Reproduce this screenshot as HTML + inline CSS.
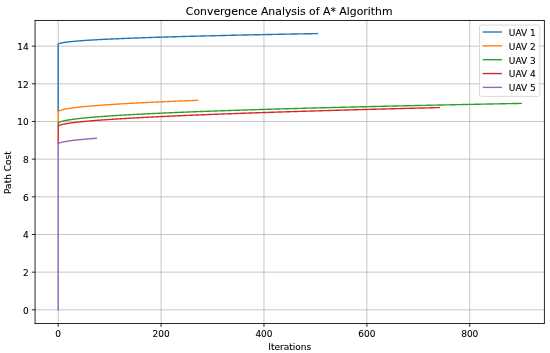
<!DOCTYPE html><html><head><meta charset="utf-8"><style>html,body{margin:0;padding:0;background:#fff;}svg{display:block;}text{font-family:"DejaVu Sans","Liberation Sans",sans-serif;fill:#000;stroke:#000;stroke-width:0.1px;}</style></head><body>
<svg width="550" height="353" viewBox="0 0 550 353">
<rect x="0" y="0" width="550" height="353" fill="#fff"/>
<g>
<path d="M58.20 20.40V323.60M161.09 20.40V323.60M263.98 20.40V323.60M366.87 20.40V323.60M469.76 20.40V323.60M35.05 309.82H544.35M35.05 272.15H544.35M35.05 234.48H544.35M35.05 196.81H544.35M35.05 159.14H544.35M35.05 121.47H544.35M35.05 83.80H544.35M35.05 46.13H544.35" stroke="#b0b0b0" stroke-width="0.734" fill="none"/>
<path d="M58.20 111.07 L58.20 44.14 L58.71 43.84 L59.23 43.62 L59.74 43.45 L60.26 43.29 L60.77 43.16 L61.29 43.04 L61.80 42.92 L62.32 42.82 L62.83 42.72 L63.34 42.63 L63.86 42.54 L64.37 42.46 L64.89 42.38 L65.40 42.30 L65.92 42.23 L66.43 42.16 L66.95 42.09 L67.46 42.02 L67.97 41.96 L68.49 41.90 L69.00 41.84 L69.52 41.78 L70.03 41.72 L70.55 41.67 L71.06 41.61 L71.58 41.56 L72.09 41.51 L72.60 41.46 L73.12 41.41 L73.63 41.36 L74.15 41.31 L74.66 41.26 L75.18 41.22 L75.69 41.17 L76.21 41.12 L76.72 41.08 L77.23 41.04 L77.75 40.99 L78.26 40.95 L78.78 40.91 L79.29 40.87 L79.81 40.83 L80.32 40.79 L80.84 40.75 L81.35 40.71 L81.86 40.68 L82.38 40.64 L82.89 40.60 L83.41 40.56 L83.92 40.53 L84.44 40.49 L84.95 40.46 L85.47 40.42 L85.98 40.39 L86.49 40.35 L87.01 40.32 L87.52 40.28 L88.04 40.25 L88.55 40.22 L89.07 40.19 L89.58 40.15 L90.10 40.12 L90.61 40.09 L91.12 40.06 L91.64 40.03 L92.15 40.00 L92.67 39.97 L93.18 39.94 L93.70 39.91 L94.21 39.88 L94.73 39.85 L95.24 39.82 L95.75 39.79 L96.27 39.76 L96.78 39.73 L97.30 39.70 L97.81 39.68 L98.33 39.65 L98.84 39.62 L99.36 39.59 L99.87 39.56 L100.38 39.54 L100.90 39.51 L101.41 39.48 L101.93 39.46 L102.44 39.43 L102.96 39.41 L103.47 39.38 L103.99 39.35 L104.50 39.33 L105.01 39.30 L105.53 39.28 L106.04 39.25 L106.56 39.23 L107.07 39.20 L107.59 39.18 L108.10 39.15 L108.62 39.13 L109.13 39.10 L109.64 39.08 L110.16 39.06 L110.67 39.03 L111.19 39.01 L111.70 38.99 L112.22 38.96 L112.73 38.94 L113.25 38.92 L113.76 38.89 L114.27 38.87 L114.79 38.85 L115.30 38.82 L115.82 38.80 L116.33 38.78 L116.85 38.76 L117.36 38.73 L117.88 38.71 L118.39 38.69 L118.90 38.67 L119.42 38.65 L119.93 38.63 L120.45 38.60 L120.96 38.58 L121.48 38.56 L121.99 38.54 L122.51 38.52 L123.02 38.50 L123.53 38.48 L124.05 38.46 L124.56 38.44 L125.08 38.41 L125.59 38.39 L126.11 38.37 L126.62 38.35 L127.14 38.33 L127.65 38.31 L128.16 38.29 L128.68 38.27 L129.19 38.25 L129.71 38.23 L130.22 38.21 L130.74 38.19 L131.25 38.17 L131.77 38.15 L132.28 38.14 L132.79 38.12 L133.31 38.10 L133.82 38.08 L134.34 38.06 L134.85 38.04 L135.37 38.02 L135.88 38.00 L136.40 37.98 L136.91 37.96 L137.42 37.95 L137.94 37.93 L138.45 37.91 L138.97 37.89 L139.48 37.87 L140.00 37.85 L140.51 37.84 L141.03 37.82 L141.54 37.80 L142.05 37.78 L142.57 37.76 L143.08 37.75 L143.60 37.73 L144.11 37.71 L144.63 37.69 L145.14 37.67 L145.66 37.66 L146.17 37.64 L146.68 37.62 L147.20 37.60 L147.71 37.59 L148.23 37.57 L148.74 37.55 L149.26 37.54 L149.77 37.52 L150.29 37.50 L150.80 37.48 L151.31 37.47 L151.83 37.45 L152.34 37.43 L152.86 37.42 L153.37 37.40 L153.89 37.38 L154.40 37.37 L154.92 37.35 L155.43 37.33 L155.94 37.32 L156.46 37.30 L156.97 37.28 L157.49 37.27 L158.00 37.25 L158.52 37.24 L159.03 37.22 L159.55 37.20 L160.06 37.19 L160.57 37.17 L161.09 37.16 L161.60 37.14 L162.12 37.12 L162.63 37.11 L163.15 37.09 L163.66 37.08 L164.18 37.06 L164.69 37.04 L165.20 37.03 L165.72 37.01 L166.23 37.00 L166.75 36.98 L167.26 36.97 L167.78 36.95 L168.29 36.94 L168.81 36.92 L169.32 36.91 L169.83 36.89 L170.35 36.88 L170.86 36.86 L171.38 36.84 L171.89 36.83 L172.41 36.81 L172.92 36.80 L173.44 36.79 L173.95 36.77 L174.46 36.76 L174.98 36.74 L175.49 36.73 L176.01 36.71 L176.52 36.70 L177.04 36.68 L177.55 36.67 L178.07 36.65 L178.58 36.64 L179.09 36.62 L179.61 36.61 L180.12 36.59 L180.64 36.58 L181.15 36.57 L181.67 36.55 L182.18 36.54 L182.70 36.52 L183.21 36.51 L183.72 36.49 L184.24 36.48 L184.75 36.47 L185.27 36.45 L185.78 36.44 L186.30 36.42 L186.81 36.41 L187.33 36.40 L187.84 36.38 L188.35 36.37 L188.87 36.35 L189.38 36.34 L189.90 36.33 L190.41 36.31 L190.93 36.30 L191.44 36.29 L191.96 36.27 L192.47 36.26 L192.98 36.24 L193.50 36.23 L194.01 36.22 L194.53 36.20 L195.04 36.19 L195.56 36.18 L196.07 36.16 L196.59 36.15 L197.10 36.14 L197.61 36.12 L198.13 36.11 L198.64 36.10 L199.16 36.08 L199.67 36.07 L200.19 36.06 L200.70 36.04 L201.22 36.03 L201.73 36.02 L202.24 36.00 L202.76 35.99 L203.27 35.98 L203.79 35.97 L204.30 35.95 L204.82 35.94 L205.33 35.93 L205.85 35.91 L206.36 35.90 L206.87 35.89 L207.39 35.88 L207.90 35.86 L208.42 35.85 L208.93 35.84 L209.45 35.82 L209.96 35.81 L210.48 35.80 L210.99 35.79 L211.50 35.77 L212.02 35.76 L212.53 35.75 L213.05 35.74 L213.56 35.72 L214.08 35.71 L214.59 35.70 L215.11 35.69 L215.62 35.67 L216.13 35.66 L216.65 35.65 L217.16 35.64 L217.68 35.62 L218.19 35.61 L218.71 35.60 L219.22 35.59 L219.74 35.58 L220.25 35.56 L220.76 35.55 L221.28 35.54 L221.79 35.53 L222.31 35.51 L222.82 35.50 L223.34 35.49 L223.85 35.48 L224.37 35.47 L224.88 35.45 L225.39 35.44 L225.91 35.43 L226.42 35.42 L226.94 35.41 L227.45 35.39 L227.97 35.38 L228.48 35.37 L229.00 35.36 L229.51 35.35 L230.02 35.34 L230.54 35.32 L231.05 35.31 L231.57 35.30 L232.08 35.29 L232.60 35.28 L233.11 35.27 L233.63 35.25 L234.14 35.24 L234.65 35.23 L235.17 35.22 L235.68 35.21 L236.20 35.20 L236.71 35.18 L237.23 35.17 L237.74 35.16 L238.26 35.15 L238.77 35.14 L239.28 35.13 L239.80 35.12 L240.31 35.10 L240.83 35.09 L241.34 35.08 L241.86 35.07 L242.37 35.06 L242.89 35.05 L243.40 35.04 L243.91 35.03 L244.43 35.01 L244.94 35.00 L245.46 34.99 L245.97 34.98 L246.49 34.97 L247.00 34.96 L247.52 34.95 L248.03 34.94 L248.54 34.92 L249.06 34.91 L249.57 34.90 L250.09 34.89 L250.60 34.88 L251.12 34.87 L251.63 34.86 L252.15 34.85 L252.66 34.84 L253.17 34.83 L253.69 34.81 L254.20 34.80 L254.72 34.79 L255.23 34.78 L255.75 34.77 L256.26 34.76 L256.78 34.75 L257.29 34.74 L257.80 34.73 L258.32 34.72 L258.83 34.71 L259.35 34.70 L259.86 34.69 L260.38 34.67 L260.89 34.66 L261.41 34.65 L261.92 34.64 L262.43 34.63 L262.95 34.62 L263.46 34.61 L263.98 34.60 L264.49 34.59 L265.01 34.58 L265.52 34.57 L266.04 34.56 L266.55 34.55 L267.06 34.54 L267.58 34.53 L268.09 34.52 L268.61 34.51 L269.12 34.49 L269.64 34.48 L270.15 34.47 L270.67 34.46 L271.18 34.45 L271.69 34.44 L272.21 34.43 L272.72 34.42 L273.24 34.41 L273.75 34.40 L274.27 34.39 L274.78 34.38 L275.30 34.37 L275.81 34.36 L276.32 34.35 L276.84 34.34 L277.35 34.33 L277.87 34.32 L278.38 34.31 L278.90 34.30 L279.41 34.29 L279.93 34.28 L280.44 34.27 L280.95 34.26 L281.47 34.25 L281.98 34.24 L282.50 34.23 L283.01 34.22 L283.53 34.21 L284.04 34.20 L284.56 34.19 L285.07 34.18 L285.58 34.17 L286.10 34.16 L286.61 34.15 L287.13 34.14 L287.64 34.13 L288.16 34.12 L288.67 34.11 L289.19 34.10 L289.70 34.09 L290.21 34.08 L290.73 34.07 L291.24 34.06 L291.76 34.05 L292.27 34.04 L292.79 34.03 L293.30 34.02 L293.82 34.01 L294.33 34.00 L294.84 33.99 L295.36 33.98 L295.87 33.97 L296.39 33.96 L296.90 33.95 L297.42 33.94 L297.93 33.93 L298.45 33.92 L298.96 33.91 L299.47 33.90 L299.99 33.89 L300.50 33.89 L301.02 33.88 L301.53 33.87 L302.05 33.86 L302.56 33.85 L303.08 33.84 L303.59 33.83 L304.10 33.82 L304.62 33.81 L305.13 33.80 L305.65 33.79 L306.16 33.78 L306.68 33.77 L307.19 33.76 L307.71 33.75 L308.22 33.74 L308.73 33.73 L309.25 33.72 L309.76 33.71 L310.28 33.70 L310.79 33.70 L311.31 33.69 L311.82 33.68 L312.34 33.67 L312.85 33.66 L313.36 33.65 L313.88 33.64 L314.39 33.63 L314.91 33.62 L315.42 33.61 L315.94 33.60 L316.45 33.59 L316.97 33.58 L317.48 33.57" stroke="#1f77b4" stroke-width="1.376" fill="none" stroke-linecap="square" stroke-linejoin="round"/>
<path d="M58.20 122.66 L58.20 111.44 L58.71 111.07 L59.23 110.80 L59.74 110.57 L60.26 110.37 L60.77 110.20 L61.29 110.04 L61.80 109.89 L62.32 109.75 L62.83 109.62 L63.34 109.50 L63.86 109.38 L64.37 109.27 L64.89 109.17 L65.40 109.07 L65.92 108.97 L66.43 108.87 L66.95 108.78 L67.46 108.69 L67.97 108.61 L68.49 108.52 L69.00 108.44 L69.52 108.36 L70.03 108.28 L70.55 108.21 L71.06 108.13 L71.58 108.06 L72.09 107.99 L72.60 107.92 L73.12 107.85 L73.63 107.79 L74.15 107.72 L74.66 107.65 L75.18 107.59 L75.69 107.53 L76.21 107.47 L76.72 107.41 L77.23 107.35 L77.75 107.29 L78.26 107.23 L78.78 107.17 L79.29 107.12 L79.81 107.06 L80.32 107.01 L80.84 106.95 L81.35 106.90 L81.86 106.85 L82.38 106.79 L82.89 106.74 L83.41 106.69 L83.92 106.64 L84.44 106.59 L84.95 106.54 L85.47 106.49 L85.98 106.44 L86.49 106.40 L87.01 106.35 L87.52 106.30 L88.04 106.26 L88.55 106.21 L89.07 106.16 L89.58 106.12 L90.10 106.07 L90.61 106.03 L91.12 105.99 L91.64 105.94 L92.15 105.90 L92.67 105.86 L93.18 105.81 L93.70 105.77 L94.21 105.73 L94.73 105.69 L95.24 105.65 L95.75 105.61 L96.27 105.57 L96.78 105.53 L97.30 105.49 L97.81 105.45 L98.33 105.41 L98.84 105.37 L99.36 105.33 L99.87 105.29 L100.38 105.25 L100.90 105.22 L101.41 105.18 L101.93 105.14 L102.44 105.10 L102.96 105.07 L103.47 105.03 L103.99 104.99 L104.50 104.96 L105.01 104.92 L105.53 104.88 L106.04 104.85 L106.56 104.81 L107.07 104.78 L107.59 104.74 L108.10 104.71 L108.62 104.67 L109.13 104.64 L109.64 104.60 L110.16 104.57 L110.67 104.54 L111.19 104.50 L111.70 104.47 L112.22 104.44 L112.73 104.40 L113.25 104.37 L113.76 104.34 L114.27 104.30 L114.79 104.27 L115.30 104.24 L115.82 104.21 L116.33 104.18 L116.85 104.14 L117.36 104.11 L117.88 104.08 L118.39 104.05 L118.90 104.02 L119.42 103.99 L119.93 103.96 L120.45 103.93 L120.96 103.90 L121.48 103.86 L121.99 103.83 L122.51 103.80 L123.02 103.77 L123.53 103.74 L124.05 103.71 L124.56 103.68 L125.08 103.65 L125.59 103.63 L126.11 103.60 L126.62 103.57 L127.14 103.54 L127.65 103.51 L128.16 103.48 L128.68 103.45 L129.19 103.42 L129.71 103.39 L130.22 103.37 L130.74 103.34 L131.25 103.31 L131.77 103.28 L132.28 103.25 L132.79 103.23 L133.31 103.20 L133.82 103.17 L134.34 103.14 L134.85 103.12 L135.37 103.09 L135.88 103.06 L136.40 103.03 L136.91 103.01 L137.42 102.98 L137.94 102.95 L138.45 102.93 L138.97 102.90 L139.48 102.87 L140.00 102.85 L140.51 102.82 L141.03 102.80 L141.54 102.77 L142.05 102.74 L142.57 102.72 L143.08 102.69 L143.60 102.67 L144.11 102.64 L144.63 102.61 L145.14 102.59 L145.66 102.56 L146.17 102.54 L146.68 102.51 L147.20 102.49 L147.71 102.46 L148.23 102.44 L148.74 102.41 L149.26 102.39 L149.77 102.36 L150.29 102.34 L150.80 102.31 L151.31 102.29 L151.83 102.26 L152.34 102.24 L152.86 102.22 L153.37 102.19 L153.89 102.17 L154.40 102.14 L154.92 102.12 L155.43 102.10 L155.94 102.07 L156.46 102.05 L156.97 102.02 L157.49 102.00 L158.00 101.98 L158.52 101.95 L159.03 101.93 L159.55 101.91 L160.06 101.88 L160.57 101.86 L161.09 101.84 L161.60 101.81 L162.12 101.79 L162.63 101.77 L163.15 101.74 L163.66 101.72 L164.18 101.70 L164.69 101.68 L165.20 101.65 L165.72 101.63 L166.23 101.61 L166.75 101.59 L167.26 101.56 L167.78 101.54 L168.29 101.52 L168.81 101.50 L169.32 101.47 L169.83 101.45 L170.35 101.43 L170.86 101.41 L171.38 101.39 L171.89 101.36 L172.41 101.34 L172.92 101.32 L173.44 101.30 L173.95 101.28 L174.46 101.25 L174.98 101.23 L175.49 101.21 L176.01 101.19 L176.52 101.17 L177.04 101.15 L177.55 101.13 L178.07 101.10 L178.58 101.08 L179.09 101.06 L179.61 101.04 L180.12 101.02 L180.64 101.00 L181.15 100.98 L181.67 100.96 L182.18 100.94 L182.70 100.92 L183.21 100.89 L183.72 100.87 L184.24 100.85 L184.75 100.83 L185.27 100.81 L185.78 100.79 L186.30 100.77 L186.81 100.75 L187.33 100.73 L187.84 100.71 L188.35 100.69 L188.87 100.67 L189.38 100.65 L189.90 100.63 L190.41 100.61 L190.93 100.59 L191.44 100.57 L191.96 100.55 L192.47 100.53 L192.98 100.51 L193.50 100.49 L194.01 100.47 L194.53 100.45 L195.04 100.43 L195.56 100.41 L196.07 100.39 L196.59 100.37 L197.10 100.35 L197.61 100.33" stroke="#ff7f0e" stroke-width="1.376" fill="none" stroke-linecap="square" stroke-linejoin="round"/>
<path d="M58.20 125.58 L58.20 123.06 L58.71 122.66 L59.23 122.36 L59.74 122.12 L60.26 121.91 L60.77 121.72 L61.29 121.55 L61.80 121.40 L62.32 121.25 L62.83 121.12 L63.34 120.99 L63.86 120.86 L64.37 120.75 L64.89 120.64 L65.40 120.53 L65.92 120.43 L66.43 120.33 L66.95 120.23 L67.46 120.14 L67.97 120.05 L68.49 119.96 L69.00 119.88 L69.52 119.80 L70.03 119.72 L70.55 119.64 L71.06 119.56 L71.58 119.49 L72.09 119.41 L72.60 119.34 L73.12 119.27 L73.63 119.20 L74.15 119.13 L74.66 119.07 L75.18 119.00 L75.69 118.94 L76.21 118.87 L76.72 118.81 L77.23 118.75 L77.75 118.69 L78.26 118.63 L78.78 118.57 L79.29 118.51 L79.81 118.45 L80.32 118.40 L80.84 118.34 L81.35 118.29 L81.86 118.23 L82.38 118.18 L82.89 118.13 L83.41 118.07 L83.92 118.02 L84.44 117.97 L84.95 117.92 L85.47 117.87 L85.98 117.82 L86.49 117.77 L87.01 117.72 L87.52 117.68 L88.04 117.63 L88.55 117.58 L89.07 117.54 L89.58 117.49 L90.10 117.44 L90.61 117.40 L91.12 117.35 L91.64 117.31 L92.15 117.26 L92.67 117.22 L93.18 117.18 L93.70 117.13 L94.21 117.09 L94.73 117.05 L95.24 117.01 L95.75 116.97 L96.27 116.92 L96.78 116.88 L97.30 116.84 L97.81 116.80 L98.33 116.76 L98.84 116.72 L99.36 116.68 L99.87 116.64 L100.38 116.61 L100.90 116.57 L101.41 116.53 L101.93 116.49 L102.44 116.45 L102.96 116.41 L103.47 116.38 L103.99 116.34 L104.50 116.30 L105.01 116.27 L105.53 116.23 L106.04 116.19 L106.56 116.16 L107.07 116.12 L107.59 116.09 L108.10 116.05 L108.62 116.02 L109.13 115.98 L109.64 115.95 L110.16 115.91 L110.67 115.88 L111.19 115.84 L111.70 115.81 L112.22 115.78 L112.73 115.74 L113.25 115.71 L113.76 115.68 L114.27 115.64 L114.79 115.61 L115.30 115.58 L115.82 115.55 L116.33 115.51 L116.85 115.48 L117.36 115.45 L117.88 115.42 L118.39 115.38 L118.90 115.35 L119.42 115.32 L119.93 115.29 L120.45 115.26 L120.96 115.23 L121.48 115.20 L121.99 115.17 L122.51 115.14 L123.02 115.11 L123.53 115.08 L124.05 115.05 L124.56 115.02 L125.08 114.99 L125.59 114.96 L126.11 114.93 L126.62 114.90 L127.14 114.87 L127.65 114.84 L128.16 114.81 L128.68 114.78 L129.19 114.75 L129.71 114.72 L130.22 114.69 L130.74 114.67 L131.25 114.64 L131.77 114.61 L132.28 114.58 L132.79 114.55 L133.31 114.53 L133.82 114.50 L134.34 114.47 L134.85 114.44 L135.37 114.42 L135.88 114.39 L136.40 114.36 L136.91 114.33 L137.42 114.31 L137.94 114.28 L138.45 114.25 L138.97 114.23 L139.48 114.20 L140.00 114.17 L140.51 114.15 L141.03 114.12 L141.54 114.09 L142.05 114.07 L142.57 114.04 L143.08 114.02 L143.60 113.99 L144.11 113.96 L144.63 113.94 L145.14 113.91 L145.66 113.89 L146.17 113.86 L146.68 113.84 L147.20 113.81 L147.71 113.79 L148.23 113.76 L148.74 113.74 L149.26 113.71 L149.77 113.69 L150.29 113.66 L150.80 113.64 L151.31 113.61 L151.83 113.59 L152.34 113.56 L152.86 113.54 L153.37 113.51 L153.89 113.49 L154.40 113.47 L154.92 113.44 L155.43 113.42 L155.94 113.39 L156.46 113.37 L156.97 113.35 L157.49 113.32 L158.00 113.30 L158.52 113.27 L159.03 113.25 L159.55 113.23 L160.06 113.20 L160.57 113.18 L161.09 113.16 L161.60 113.13 L162.12 113.11 L162.63 113.09 L163.15 113.06 L163.66 113.04 L164.18 113.02 L164.69 113.00 L165.20 112.97 L165.72 112.95 L166.23 112.93 L166.75 112.91 L167.26 112.88 L167.78 112.86 L168.29 112.84 L168.81 112.82 L169.32 112.79 L169.83 112.77 L170.35 112.75 L170.86 112.73 L171.38 112.71 L171.89 112.68 L172.41 112.66 L172.92 112.64 L173.44 112.62 L173.95 112.60 L174.46 112.57 L174.98 112.55 L175.49 112.53 L176.01 112.51 L176.52 112.49 L177.04 112.47 L177.55 112.45 L178.07 112.42 L178.58 112.40 L179.09 112.38 L179.61 112.36 L180.12 112.34 L180.64 112.32 L181.15 112.30 L181.67 112.28 L182.18 112.26 L182.70 112.24 L183.21 112.21 L183.72 112.19 L184.24 112.17 L184.75 112.15 L185.27 112.13 L185.78 112.11 L186.30 112.09 L186.81 112.07 L187.33 112.05 L187.84 112.03 L188.35 112.01 L188.87 111.99 L189.38 111.97 L189.90 111.95 L190.41 111.93 L190.93 111.91 L191.44 111.89 L191.96 111.87 L192.47 111.85 L192.98 111.83 L193.50 111.81 L194.01 111.79 L194.53 111.77 L195.04 111.75 L195.56 111.73 L196.07 111.71 L196.59 111.69 L197.10 111.67 L197.61 111.65 L198.13 111.63 L198.64 111.61 L199.16 111.59 L199.67 111.57 L200.19 111.55 L200.70 111.54 L201.22 111.52 L201.73 111.50 L202.24 111.48 L202.76 111.46 L203.27 111.44 L203.79 111.42 L204.30 111.40 L204.82 111.38 L205.33 111.36 L205.85 111.34 L206.36 111.33 L206.87 111.31 L207.39 111.29 L207.90 111.27 L208.42 111.25 L208.93 111.23 L209.45 111.21 L209.96 111.19 L210.48 111.18 L210.99 111.16 L211.50 111.14 L212.02 111.12 L212.53 111.10 L213.05 111.08 L213.56 111.07 L214.08 111.05 L214.59 111.03 L215.11 111.01 L215.62 110.99 L216.13 110.97 L216.65 110.96 L217.16 110.94 L217.68 110.92 L218.19 110.90 L218.71 110.88 L219.22 110.87 L219.74 110.85 L220.25 110.83 L220.76 110.81 L221.28 110.79 L221.79 110.78 L222.31 110.76 L222.82 110.74 L223.34 110.72 L223.85 110.71 L224.37 110.69 L224.88 110.67 L225.39 110.65 L225.91 110.64 L226.42 110.62 L226.94 110.60 L227.45 110.58 L227.97 110.57 L228.48 110.55 L229.00 110.53 L229.51 110.51 L230.02 110.50 L230.54 110.48 L231.05 110.46 L231.57 110.45 L232.08 110.43 L232.60 110.41 L233.11 110.39 L233.63 110.38 L234.14 110.36 L234.65 110.34 L235.17 110.33 L235.68 110.31 L236.20 110.29 L236.71 110.27 L237.23 110.26 L237.74 110.24 L238.26 110.22 L238.77 110.21 L239.28 110.19 L239.80 110.17 L240.31 110.16 L240.83 110.14 L241.34 110.12 L241.86 110.11 L242.37 110.09 L242.89 110.07 L243.40 110.06 L243.91 110.04 L244.43 110.02 L244.94 110.01 L245.46 109.99 L245.97 109.98 L246.49 109.96 L247.00 109.94 L247.52 109.93 L248.03 109.91 L248.54 109.89 L249.06 109.88 L249.57 109.86 L250.09 109.84 L250.60 109.83 L251.12 109.81 L251.63 109.80 L252.15 109.78 L252.66 109.76 L253.17 109.75 L253.69 109.73 L254.20 109.72 L254.72 109.70 L255.23 109.68 L255.75 109.67 L256.26 109.65 L256.78 109.64 L257.29 109.62 L257.80 109.60 L258.32 109.59 L258.83 109.57 L259.35 109.56 L259.86 109.54 L260.38 109.53 L260.89 109.51 L261.41 109.49 L261.92 109.48 L262.43 109.46 L262.95 109.45 L263.46 109.43 L263.98 109.42 L264.49 109.40 L265.01 109.38 L265.52 109.37 L266.04 109.35 L266.55 109.34 L267.06 109.32 L267.58 109.31 L268.09 109.29 L268.61 109.28 L269.12 109.26 L269.64 109.25 L270.15 109.23 L270.67 109.22 L271.18 109.20 L271.69 109.18 L272.21 109.17 L272.72 109.15 L273.24 109.14 L273.75 109.12 L274.27 109.11 L274.78 109.09 L275.30 109.08 L275.81 109.06 L276.32 109.05 L276.84 109.03 L277.35 109.02 L277.87 109.00 L278.38 108.99 L278.90 108.97 L279.41 108.96 L279.93 108.94 L280.44 108.93 L280.95 108.91 L281.47 108.90 L281.98 108.88 L282.50 108.87 L283.01 108.85 L283.53 108.84 L284.04 108.82 L284.56 108.81 L285.07 108.80 L285.58 108.78 L286.10 108.77 L286.61 108.75 L287.13 108.74 L287.64 108.72 L288.16 108.71 L288.67 108.69 L289.19 108.68 L289.70 108.66 L290.21 108.65 L290.73 108.63 L291.24 108.62 L291.76 108.61 L292.27 108.59 L292.79 108.58 L293.30 108.56 L293.82 108.55 L294.33 108.53 L294.84 108.52 L295.36 108.51 L295.87 108.49 L296.39 108.48 L296.90 108.46 L297.42 108.45 L297.93 108.43 L298.45 108.42 L298.96 108.41 L299.47 108.39 L299.99 108.38 L300.50 108.36 L301.02 108.35 L301.53 108.33 L302.05 108.32 L302.56 108.31 L303.08 108.29 L303.59 108.28 L304.10 108.26 L304.62 108.25 L305.13 108.24 L305.65 108.22 L306.16 108.21 L306.68 108.19 L307.19 108.18 L307.71 108.17 L308.22 108.15 L308.73 108.14 L309.25 108.12 L309.76 108.11 L310.28 108.10 L310.79 108.08 L311.31 108.07 L311.82 108.06 L312.34 108.04 L312.85 108.03 L313.36 108.01 L313.88 108.00 L314.39 107.99 L314.91 107.97 L315.42 107.96 L315.94 107.95 L316.45 107.93 L316.97 107.92 L317.48 107.90 L317.99 107.89 L318.51 107.88 L319.02 107.86 L319.54 107.85 L320.05 107.84 L320.57 107.82 L321.08 107.81 L321.60 107.80 L322.11 107.78 L322.62 107.77 L323.14 107.76 L323.65 107.74 L324.17 107.73 L324.68 107.72 L325.20 107.70 L325.71 107.69 L326.23 107.67 L326.74 107.66 L327.25 107.65 L327.77 107.63 L328.28 107.62 L328.80 107.61 L329.31 107.60 L329.83 107.58 L330.34 107.57 L330.86 107.56 L331.37 107.54 L331.88 107.53 L332.40 107.52 L332.91 107.50 L333.43 107.49 L333.94 107.48 L334.46 107.46 L334.97 107.45 L335.49 107.44 L336.00 107.42 L336.51 107.41 L337.03 107.40 L337.54 107.38 L338.06 107.37 L338.57 107.36 L339.09 107.35 L339.60 107.33 L340.12 107.32 L340.63 107.31 L341.14 107.29 L341.66 107.28 L342.17 107.27 L342.69 107.25 L343.20 107.24 L343.72 107.23 L344.23 107.22 L344.75 107.20 L345.26 107.19 L345.77 107.18 L346.29 107.16 L346.80 107.15 L347.32 107.14 L347.83 107.13 L348.35 107.11 L348.86 107.10 L349.38 107.09 L349.89 107.08 L350.40 107.06 L350.92 107.05 L351.43 107.04 L351.95 107.02 L352.46 107.01 L352.98 107.00 L353.49 106.99 L354.01 106.97 L354.52 106.96 L355.03 106.95 L355.55 106.94 L356.06 106.92 L356.58 106.91 L357.09 106.90 L357.61 106.89 L358.12 106.87 L358.64 106.86 L359.15 106.85 L359.66 106.84 L360.18 106.82 L360.69 106.81 L361.21 106.80 L361.72 106.79 L362.24 106.77 L362.75 106.76 L363.27 106.75 L363.78 106.74 L364.29 106.72 L364.81 106.71 L365.32 106.70 L365.84 106.69 L366.35 106.67 L366.87 106.66 L367.38 106.65 L367.90 106.64 L368.41 106.63 L368.92 106.61 L369.44 106.60 L369.95 106.59 L370.47 106.58 L370.98 106.56 L371.50 106.55 L372.01 106.54 L372.53 106.53 L373.04 106.52 L373.55 106.50 L374.07 106.49 L374.58 106.48 L375.10 106.47 L375.61 106.45 L376.13 106.44 L376.64 106.43 L377.16 106.42 L377.67 106.41 L378.18 106.39 L378.70 106.38 L379.21 106.37 L379.73 106.36 L380.24 106.35 L380.76 106.33 L381.27 106.32 L381.79 106.31 L382.30 106.30 L382.81 106.29 L383.33 106.27 L383.84 106.26 L384.36 106.25 L384.87 106.24 L385.39 106.23 L385.90 106.21 L386.42 106.20 L386.93 106.19 L387.44 106.18 L387.96 106.17 L388.47 106.16 L388.99 106.14 L389.50 106.13 L390.02 106.12 L390.53 106.11 L391.05 106.10 L391.56 106.08 L392.07 106.07 L392.59 106.06 L393.10 106.05 L393.62 106.04 L394.13 106.03 L394.65 106.01 L395.16 106.00 L395.68 105.99 L396.19 105.98 L396.70 105.97 L397.22 105.96 L397.73 105.94 L398.25 105.93 L398.76 105.92 L399.28 105.91 L399.79 105.90 L400.31 105.89 L400.82 105.87 L401.33 105.86 L401.85 105.85 L402.36 105.84 L402.88 105.83 L403.39 105.82 L403.91 105.80 L404.42 105.79 L404.94 105.78 L405.45 105.77 L405.96 105.76 L406.48 105.75 L406.99 105.74 L407.51 105.72 L408.02 105.71 L408.54 105.70 L409.05 105.69 L409.57 105.68 L410.08 105.67 L410.59 105.66 L411.11 105.64 L411.62 105.63 L412.14 105.62 L412.65 105.61 L413.17 105.60 L413.68 105.59 L414.20 105.58 L414.71 105.56 L415.22 105.55 L415.74 105.54 L416.25 105.53 L416.77 105.52 L417.28 105.51 L417.80 105.50 L418.31 105.49 L418.83 105.47 L419.34 105.46 L419.85 105.45 L420.37 105.44 L420.88 105.43 L421.40 105.42 L421.91 105.41 L422.43 105.40 L422.94 105.38 L423.46 105.37 L423.97 105.36 L424.48 105.35 L425.00 105.34 L425.51 105.33 L426.03 105.32 L426.54 105.31 L427.06 105.30 L427.57 105.28 L428.09 105.27 L428.60 105.26 L429.11 105.25 L429.63 105.24 L430.14 105.23 L430.66 105.22 L431.17 105.21 L431.69 105.20 L432.20 105.19 L432.72 105.17 L433.23 105.16 L433.74 105.15 L434.26 105.14 L434.77 105.13 L435.29 105.12 L435.80 105.11 L436.32 105.10 L436.83 105.09 L437.35 105.08 L437.86 105.06 L438.37 105.05 L438.89 105.04 L439.40 105.03 L439.92 105.02 L440.43 105.01 L440.95 105.00 L441.46 104.99 L441.98 104.98 L442.49 104.97 L443.00 104.96 L443.52 104.94 L444.03 104.93 L444.55 104.92 L445.06 104.91 L445.58 104.90 L446.09 104.89 L446.61 104.88 L447.12 104.87 L447.63 104.86 L448.15 104.85 L448.66 104.84 L449.18 104.83 L449.69 104.82 L450.21 104.80 L450.72 104.79 L451.24 104.78 L451.75 104.77 L452.26 104.76 L452.78 104.75 L453.29 104.74 L453.81 104.73 L454.32 104.72 L454.84 104.71 L455.35 104.70 L455.87 104.69 L456.38 104.68 L456.89 104.67 L457.41 104.66 L457.92 104.64 L458.44 104.63 L458.95 104.62 L459.47 104.61 L459.98 104.60 L460.50 104.59 L461.01 104.58 L461.52 104.57 L462.04 104.56 L462.55 104.55 L463.07 104.54 L463.58 104.53 L464.10 104.52 L464.61 104.51 L465.13 104.50 L465.64 104.49 L466.15 104.48 L466.67 104.47 L467.18 104.46 L467.70 104.44 L468.21 104.43 L468.73 104.42 L469.24 104.41 L469.76 104.40 L470.27 104.39 L470.78 104.38 L471.30 104.37 L471.81 104.36 L472.33 104.35 L472.84 104.34 L473.36 104.33 L473.87 104.32 L474.39 104.31 L474.90 104.30 L475.41 104.29 L475.93 104.28 L476.44 104.27 L476.96 104.26 L477.47 104.25 L477.99 104.24 L478.50 104.23 L479.02 104.22 L479.53 104.21 L480.04 104.20 L480.56 104.19 L481.07 104.18 L481.59 104.17 L482.10 104.15 L482.62 104.14 L483.13 104.13 L483.65 104.12 L484.16 104.11 L484.67 104.10 L485.19 104.09 L485.70 104.08 L486.22 104.07 L486.73 104.06 L487.25 104.05 L487.76 104.04 L488.28 104.03 L488.79 104.02 L489.30 104.01 L489.82 104.00 L490.33 103.99 L490.85 103.98 L491.36 103.97 L491.88 103.96 L492.39 103.95 L492.91 103.94 L493.42 103.93 L493.93 103.92 L494.45 103.91 L494.96 103.90 L495.48 103.89 L495.99 103.88 L496.51 103.87 L497.02 103.86 L497.54 103.85 L498.05 103.84 L498.56 103.83 L499.08 103.82 L499.59 103.81 L500.11 103.80 L500.62 103.79 L501.14 103.78 L501.65 103.77 L502.17 103.76 L502.68 103.75 L503.19 103.74 L503.71 103.73 L504.22 103.72 L504.74 103.71 L505.25 103.70 L505.77 103.69 L506.28 103.68 L506.80 103.67 L507.31 103.66 L507.82 103.65 L508.34 103.64 L508.85 103.63 L509.37 103.62 L509.88 103.61 L510.40 103.60 L510.91 103.59 L511.43 103.58 L511.94 103.57 L512.45 103.56 L512.97 103.55 L513.48 103.54 L514.00 103.53 L514.51 103.52 L515.03 103.51 L515.54 103.50 L516.06 103.49 L516.57 103.48 L517.08 103.47 L517.60 103.46 L518.11 103.45 L518.63 103.44 L519.14 103.43 L519.66 103.43 L520.17 103.42 L520.69 103.41 L521.20 103.40" stroke="#2ca02c" stroke-width="1.376" fill="none" stroke-linecap="square" stroke-linejoin="round"/>
<path d="M58.20 143.35 L58.20 125.88 L58.71 125.58 L59.23 125.35 L59.74 125.16 L60.26 124.99 L60.77 124.83 L61.29 124.69 L61.80 124.56 L62.32 124.44 L62.83 124.32 L63.34 124.21 L63.86 124.11 L64.37 124.01 L64.89 123.91 L65.40 123.81 L65.92 123.72 L66.43 123.64 L66.95 123.55 L67.46 123.47 L67.97 123.39 L68.49 123.31 L69.00 123.23 L69.52 123.16 L70.03 123.09 L70.55 123.01 L71.06 122.94 L71.58 122.87 L72.09 122.81 L72.60 122.74 L73.12 122.68 L73.63 122.61 L74.15 122.55 L74.66 122.49 L75.18 122.43 L75.69 122.37 L76.21 122.31 L76.72 122.25 L77.23 122.19 L77.75 122.13 L78.26 122.08 L78.78 122.02 L79.29 121.97 L79.81 121.91 L80.32 121.86 L80.84 121.81 L81.35 121.75 L81.86 121.70 L82.38 121.65 L82.89 121.60 L83.41 121.55 L83.92 121.50 L84.44 121.45 L84.95 121.40 L85.47 121.36 L85.98 121.31 L86.49 121.26 L87.01 121.21 L87.52 121.17 L88.04 121.12 L88.55 121.08 L89.07 121.03 L89.58 120.99 L90.10 120.94 L90.61 120.90 L91.12 120.85 L91.64 120.81 L92.15 120.77 L92.67 120.72 L93.18 120.68 L93.70 120.64 L94.21 120.60 L94.73 120.56 L95.24 120.52 L95.75 120.47 L96.27 120.43 L96.78 120.39 L97.30 120.35 L97.81 120.31 L98.33 120.27 L98.84 120.23 L99.36 120.20 L99.87 120.16 L100.38 120.12 L100.90 120.08 L101.41 120.04 L101.93 120.00 L102.44 119.97 L102.96 119.93 L103.47 119.89 L103.99 119.85 L104.50 119.82 L105.01 119.78 L105.53 119.74 L106.04 119.71 L106.56 119.67 L107.07 119.64 L107.59 119.60 L108.10 119.57 L108.62 119.53 L109.13 119.50 L109.64 119.46 L110.16 119.43 L110.67 119.39 L111.19 119.36 L111.70 119.32 L112.22 119.29 L112.73 119.25 L113.25 119.22 L113.76 119.19 L114.27 119.15 L114.79 119.12 L115.30 119.09 L115.82 119.05 L116.33 119.02 L116.85 118.99 L117.36 118.96 L117.88 118.92 L118.39 118.89 L118.90 118.86 L119.42 118.83 L119.93 118.80 L120.45 118.76 L120.96 118.73 L121.48 118.70 L121.99 118.67 L122.51 118.64 L123.02 118.61 L123.53 118.58 L124.05 118.55 L124.56 118.52 L125.08 118.49 L125.59 118.45 L126.11 118.42 L126.62 118.39 L127.14 118.36 L127.65 118.33 L128.16 118.30 L128.68 118.27 L129.19 118.25 L129.71 118.22 L130.22 118.19 L130.74 118.16 L131.25 118.13 L131.77 118.10 L132.28 118.07 L132.79 118.04 L133.31 118.01 L133.82 117.98 L134.34 117.95 L134.85 117.93 L135.37 117.90 L135.88 117.87 L136.40 117.84 L136.91 117.81 L137.42 117.79 L137.94 117.76 L138.45 117.73 L138.97 117.70 L139.48 117.67 L140.00 117.65 L140.51 117.62 L141.03 117.59 L141.54 117.56 L142.05 117.54 L142.57 117.51 L143.08 117.48 L143.60 117.46 L144.11 117.43 L144.63 117.40 L145.14 117.38 L145.66 117.35 L146.17 117.32 L146.68 117.30 L147.20 117.27 L147.71 117.24 L148.23 117.22 L148.74 117.19 L149.26 117.16 L149.77 117.14 L150.29 117.11 L150.80 117.09 L151.31 117.06 L151.83 117.03 L152.34 117.01 L152.86 116.98 L153.37 116.96 L153.89 116.93 L154.40 116.91 L154.92 116.88 L155.43 116.86 L155.94 116.83 L156.46 116.81 L156.97 116.78 L157.49 116.76 L158.00 116.73 L158.52 116.71 L159.03 116.68 L159.55 116.66 L160.06 116.63 L160.57 116.61 L161.09 116.58 L161.60 116.56 L162.12 116.53 L162.63 116.51 L163.15 116.49 L163.66 116.46 L164.18 116.44 L164.69 116.41 L165.20 116.39 L165.72 116.37 L166.23 116.34 L166.75 116.32 L167.26 116.29 L167.78 116.27 L168.29 116.25 L168.81 116.22 L169.32 116.20 L169.83 116.18 L170.35 116.15 L170.86 116.13 L171.38 116.10 L171.89 116.08 L172.41 116.06 L172.92 116.04 L173.44 116.01 L173.95 115.99 L174.46 115.97 L174.98 115.94 L175.49 115.92 L176.01 115.90 L176.52 115.87 L177.04 115.85 L177.55 115.83 L178.07 115.81 L178.58 115.78 L179.09 115.76 L179.61 115.74 L180.12 115.72 L180.64 115.69 L181.15 115.67 L181.67 115.65 L182.18 115.63 L182.70 115.60 L183.21 115.58 L183.72 115.56 L184.24 115.54 L184.75 115.52 L185.27 115.49 L185.78 115.47 L186.30 115.45 L186.81 115.43 L187.33 115.41 L187.84 115.38 L188.35 115.36 L188.87 115.34 L189.38 115.32 L189.90 115.30 L190.41 115.27 L190.93 115.25 L191.44 115.23 L191.96 115.21 L192.47 115.19 L192.98 115.17 L193.50 115.15 L194.01 115.12 L194.53 115.10 L195.04 115.08 L195.56 115.06 L196.07 115.04 L196.59 115.02 L197.10 115.00 L197.61 114.98 L198.13 114.96 L198.64 114.94 L199.16 114.91 L199.67 114.89 L200.19 114.87 L200.70 114.85 L201.22 114.83 L201.73 114.81 L202.24 114.79 L202.76 114.77 L203.27 114.75 L203.79 114.73 L204.30 114.71 L204.82 114.69 L205.33 114.67 L205.85 114.65 L206.36 114.63 L206.87 114.61 L207.39 114.58 L207.90 114.56 L208.42 114.54 L208.93 114.52 L209.45 114.50 L209.96 114.48 L210.48 114.46 L210.99 114.44 L211.50 114.42 L212.02 114.40 L212.53 114.38 L213.05 114.36 L213.56 114.34 L214.08 114.32 L214.59 114.30 L215.11 114.28 L215.62 114.26 L216.13 114.24 L216.65 114.22 L217.16 114.21 L217.68 114.19 L218.19 114.17 L218.71 114.15 L219.22 114.13 L219.74 114.11 L220.25 114.09 L220.76 114.07 L221.28 114.05 L221.79 114.03 L222.31 114.01 L222.82 113.99 L223.34 113.97 L223.85 113.95 L224.37 113.93 L224.88 113.91 L225.39 113.89 L225.91 113.88 L226.42 113.86 L226.94 113.84 L227.45 113.82 L227.97 113.80 L228.48 113.78 L229.00 113.76 L229.51 113.74 L230.02 113.72 L230.54 113.70 L231.05 113.69 L231.57 113.67 L232.08 113.65 L232.60 113.63 L233.11 113.61 L233.63 113.59 L234.14 113.57 L234.65 113.55 L235.17 113.54 L235.68 113.52 L236.20 113.50 L236.71 113.48 L237.23 113.46 L237.74 113.44 L238.26 113.43 L238.77 113.41 L239.28 113.39 L239.80 113.37 L240.31 113.35 L240.83 113.33 L241.34 113.31 L241.86 113.30 L242.37 113.28 L242.89 113.26 L243.40 113.24 L243.91 113.22 L244.43 113.21 L244.94 113.19 L245.46 113.17 L245.97 113.15 L246.49 113.13 L247.00 113.12 L247.52 113.10 L248.03 113.08 L248.54 113.06 L249.06 113.04 L249.57 113.03 L250.09 113.01 L250.60 112.99 L251.12 112.97 L251.63 112.95 L252.15 112.94 L252.66 112.92 L253.17 112.90 L253.69 112.88 L254.20 112.87 L254.72 112.85 L255.23 112.83 L255.75 112.81 L256.26 112.80 L256.78 112.78 L257.29 112.76 L257.80 112.74 L258.32 112.73 L258.83 112.71 L259.35 112.69 L259.86 112.67 L260.38 112.66 L260.89 112.64 L261.41 112.62 L261.92 112.60 L262.43 112.59 L262.95 112.57 L263.46 112.55 L263.98 112.53 L264.49 112.52 L265.01 112.50 L265.52 112.48 L266.04 112.47 L266.55 112.45 L267.06 112.43 L267.58 112.41 L268.09 112.40 L268.61 112.38 L269.12 112.36 L269.64 112.35 L270.15 112.33 L270.67 112.31 L271.18 112.29 L271.69 112.28 L272.21 112.26 L272.72 112.24 L273.24 112.23 L273.75 112.21 L274.27 112.19 L274.78 112.18 L275.30 112.16 L275.81 112.14 L276.32 112.13 L276.84 112.11 L277.35 112.09 L277.87 112.08 L278.38 112.06 L278.90 112.04 L279.41 112.03 L279.93 112.01 L280.44 111.99 L280.95 111.98 L281.47 111.96 L281.98 111.94 L282.50 111.93 L283.01 111.91 L283.53 111.89 L284.04 111.88 L284.56 111.86 L285.07 111.84 L285.58 111.83 L286.10 111.81 L286.61 111.80 L287.13 111.78 L287.64 111.76 L288.16 111.75 L288.67 111.73 L289.19 111.71 L289.70 111.70 L290.21 111.68 L290.73 111.67 L291.24 111.65 L291.76 111.63 L292.27 111.62 L292.79 111.60 L293.30 111.58 L293.82 111.57 L294.33 111.55 L294.84 111.54 L295.36 111.52 L295.87 111.50 L296.39 111.49 L296.90 111.47 L297.42 111.46 L297.93 111.44 L298.45 111.42 L298.96 111.41 L299.47 111.39 L299.99 111.38 L300.50 111.36 L301.02 111.35 L301.53 111.33 L302.05 111.31 L302.56 111.30 L303.08 111.28 L303.59 111.27 L304.10 111.25 L304.62 111.23 L305.13 111.22 L305.65 111.20 L306.16 111.19 L306.68 111.17 L307.19 111.16 L307.71 111.14 L308.22 111.13 L308.73 111.11 L309.25 111.09 L309.76 111.08 L310.28 111.06 L310.79 111.05 L311.31 111.03 L311.82 111.02 L312.34 111.00 L312.85 110.99 L313.36 110.97 L313.88 110.95 L314.39 110.94 L314.91 110.92 L315.42 110.91 L315.94 110.89 L316.45 110.88 L316.97 110.86 L317.48 110.85 L317.99 110.83 L318.51 110.82 L319.02 110.80 L319.54 110.79 L320.05 110.77 L320.57 110.76 L321.08 110.74 L321.60 110.72 L322.11 110.71 L322.62 110.69 L323.14 110.68 L323.65 110.66 L324.17 110.65 L324.68 110.63 L325.20 110.62 L325.71 110.60 L326.23 110.59 L326.74 110.57 L327.25 110.56 L327.77 110.54 L328.28 110.53 L328.80 110.51 L329.31 110.50 L329.83 110.48 L330.34 110.47 L330.86 110.45 L331.37 110.44 L331.88 110.42 L332.40 110.41 L332.91 110.39 L333.43 110.38 L333.94 110.36 L334.46 110.35 L334.97 110.33 L335.49 110.32 L336.00 110.30 L336.51 110.29 L337.03 110.28 L337.54 110.26 L338.06 110.25 L338.57 110.23 L339.09 110.22 L339.60 110.20 L340.12 110.19 L340.63 110.17 L341.14 110.16 L341.66 110.14 L342.17 110.13 L342.69 110.11 L343.20 110.10 L343.72 110.08 L344.23 110.07 L344.75 110.06 L345.26 110.04 L345.77 110.03 L346.29 110.01 L346.80 110.00 L347.32 109.98 L347.83 109.97 L348.35 109.95 L348.86 109.94 L349.38 109.92 L349.89 109.91 L350.40 109.90 L350.92 109.88 L351.43 109.87 L351.95 109.85 L352.46 109.84 L352.98 109.82 L353.49 109.81 L354.01 109.80 L354.52 109.78 L355.03 109.77 L355.55 109.75 L356.06 109.74 L356.58 109.72 L357.09 109.71 L357.61 109.70 L358.12 109.68 L358.64 109.67 L359.15 109.65 L359.66 109.64 L360.18 109.62 L360.69 109.61 L361.21 109.60 L361.72 109.58 L362.24 109.57 L362.75 109.55 L363.27 109.54 L363.78 109.53 L364.29 109.51 L364.81 109.50 L365.32 109.48 L365.84 109.47 L366.35 109.45 L366.87 109.44 L367.38 109.43 L367.90 109.41 L368.41 109.40 L368.92 109.38 L369.44 109.37 L369.95 109.36 L370.47 109.34 L370.98 109.33 L371.50 109.31 L372.01 109.30 L372.53 109.29 L373.04 109.27 L373.55 109.26 L374.07 109.25 L374.58 109.23 L375.10 109.22 L375.61 109.20 L376.13 109.19 L376.64 109.18 L377.16 109.16 L377.67 109.15 L378.18 109.14 L378.70 109.12 L379.21 109.11 L379.73 109.09 L380.24 109.08 L380.76 109.07 L381.27 109.05 L381.79 109.04 L382.30 109.03 L382.81 109.01 L383.33 109.00 L383.84 108.98 L384.36 108.97 L384.87 108.96 L385.39 108.94 L385.90 108.93 L386.42 108.92 L386.93 108.90 L387.44 108.89 L387.96 108.88 L388.47 108.86 L388.99 108.85 L389.50 108.83 L390.02 108.82 L390.53 108.81 L391.05 108.79 L391.56 108.78 L392.07 108.77 L392.59 108.75 L393.10 108.74 L393.62 108.73 L394.13 108.71 L394.65 108.70 L395.16 108.69 L395.68 108.67 L396.19 108.66 L396.70 108.65 L397.22 108.63 L397.73 108.62 L398.25 108.61 L398.76 108.59 L399.28 108.58 L399.79 108.57 L400.31 108.55 L400.82 108.54 L401.33 108.53 L401.85 108.51 L402.36 108.50 L402.88 108.49 L403.39 108.47 L403.91 108.46 L404.42 108.45 L404.94 108.43 L405.45 108.42 L405.96 108.41 L406.48 108.39 L406.99 108.38 L407.51 108.37 L408.02 108.35 L408.54 108.34 L409.05 108.33 L409.57 108.32 L410.08 108.30 L410.59 108.29 L411.11 108.28 L411.62 108.26 L412.14 108.25 L412.65 108.24 L413.17 108.22 L413.68 108.21 L414.20 108.20 L414.71 108.18 L415.22 108.17 L415.74 108.16 L416.25 108.15 L416.77 108.13 L417.28 108.12 L417.80 108.11 L418.31 108.09 L418.83 108.08 L419.34 108.07 L419.85 108.05 L420.37 108.04 L420.88 108.03 L421.40 108.02 L421.91 108.00 L422.43 107.99 L422.94 107.98 L423.46 107.96 L423.97 107.95 L424.48 107.94 L425.00 107.93 L425.51 107.91 L426.03 107.90 L426.54 107.89 L427.06 107.87 L427.57 107.86 L428.09 107.85 L428.60 107.84 L429.11 107.82 L429.63 107.81 L430.14 107.80 L430.66 107.78 L431.17 107.77 L431.69 107.76 L432.20 107.75 L432.72 107.73 L433.23 107.72 L433.74 107.71 L434.26 107.70 L434.77 107.68 L435.29 107.67 L435.80 107.66 L436.32 107.65 L436.83 107.63 L437.35 107.62 L437.86 107.61 L438.37 107.59 L438.89 107.58 L439.40 107.57" stroke="#d62728" stroke-width="1.376" fill="none" stroke-linecap="square" stroke-linejoin="round"/>
<path d="M58.20 309.82 L58.20 143.68 L58.71 143.35 L59.23 143.10 L59.74 142.89 L60.26 142.71 L60.77 142.55 L61.29 142.41 L61.80 142.27 L62.32 142.15 L62.83 142.03 L63.34 141.92 L63.86 141.81 L64.37 141.71 L64.89 141.61 L65.40 141.52 L65.92 141.43 L66.43 141.34 L66.95 141.25 L67.46 141.17 L67.97 141.09 L68.49 141.02 L69.00 140.94 L69.52 140.87 L70.03 140.79 L70.55 140.72 L71.06 140.66 L71.58 140.59 L72.09 140.52 L72.60 140.46 L73.12 140.39 L73.63 140.33 L74.15 140.27 L74.66 140.21 L75.18 140.15 L75.69 140.09 L76.21 140.04 L76.72 139.98 L77.23 139.93 L77.75 139.87 L78.26 139.82 L78.78 139.76 L79.29 139.71 L79.81 139.66 L80.32 139.61 L80.84 139.56 L81.35 139.51 L81.86 139.46 L82.38 139.41 L82.89 139.36 L83.41 139.31 L83.92 139.27 L84.44 139.22 L84.95 139.17 L85.47 139.13 L85.98 139.08 L86.49 139.04 L87.01 139.00 L87.52 138.95 L88.04 138.91 L88.55 138.87 L89.07 138.82 L89.58 138.78 L90.10 138.74 L90.61 138.70 L91.12 138.66 L91.64 138.62 L92.15 138.57 L92.67 138.53 L93.18 138.50 L93.70 138.46 L94.21 138.42 L94.73 138.38 L95.24 138.34 L95.75 138.30 L96.27 138.26" stroke="#9467bd" stroke-width="1.376" fill="none" stroke-linecap="square" stroke-linejoin="round"/>
<rect x="35.05" y="20.40" width="509.30" height="303.20" fill="none" stroke="#000" stroke-width="0.850" stroke-linecap="square"/>
<path d="M58.20 323.60v3.21M161.09 323.60v3.21M263.98 323.60v3.21M366.87 323.60v3.21M469.76 323.60v3.21M35.05 309.82h-3.21M35.05 272.15h-3.21M35.05 234.48h-3.21M35.05 196.81h-3.21M35.05 159.14h-3.21M35.05 121.47h-3.21M35.05 83.80h-3.21M35.05 46.13h-3.21" stroke="#000" stroke-width="0.850" fill="none"/>
<text x="58.20" y="337.0" font-size="9.0" text-anchor="middle">0</text>
<text x="161.09" y="337.0" font-size="9.0" text-anchor="middle">200</text>
<text x="263.98" y="337.0" font-size="9.0" text-anchor="middle">400</text>
<text x="366.87" y="337.0" font-size="9.0" text-anchor="middle">600</text>
<text x="469.76" y="337.0" font-size="9.0" text-anchor="middle">800</text>
<text x="28.63" y="313.69" font-size="9.0" text-anchor="end">0</text>
<text x="28.63" y="276.02" font-size="9.0" text-anchor="end">2</text>
<text x="28.63" y="238.35" font-size="9.0" text-anchor="end">4</text>
<text x="28.63" y="200.68" font-size="9.0" text-anchor="end">6</text>
<text x="28.63" y="163.01" font-size="9.0" text-anchor="end">8</text>
<text x="28.63" y="125.34" font-size="9.0" text-anchor="end">10</text>
<text x="28.63" y="87.67" font-size="9.0" text-anchor="end">12</text>
<text x="28.63" y="50.00" font-size="9.0" text-anchor="end">14</text>
<text x="289.70" y="350.0" font-size="9.0" text-anchor="middle">Iterations</text>
<text transform="translate(10.9 172.60) rotate(-90)" x="0" y="0" font-size="9.0" text-anchor="middle">Path Cost</text>
<text x="289.20" y="14.6" font-size="10.87" text-anchor="middle">Convergence Analysis of A* Algorithm</text>
<rect x="479.5" y="25.1" width="60.30" height="71.30" rx="1.80" ry="1.80" fill="#fff" fill-opacity="0.8" stroke="#cccccc" stroke-opacity="0.8" stroke-width="0.917"/>
<path d="M483.30 32.00H501.30" stroke="#1f77b4" stroke-width="1.376" stroke-linecap="square"/>
<text x="508.80" y="35.90" font-size="9.0">UAV 1</text>
<path d="M483.30 45.85H501.30" stroke="#ff7f0e" stroke-width="1.376" stroke-linecap="square"/>
<text x="508.80" y="49.75" font-size="9.0">UAV 2</text>
<path d="M483.30 59.70H501.30" stroke="#2ca02c" stroke-width="1.376" stroke-linecap="square"/>
<text x="508.80" y="63.60" font-size="9.0">UAV 3</text>
<path d="M483.30 73.55H501.30" stroke="#d62728" stroke-width="1.376" stroke-linecap="square"/>
<text x="508.80" y="77.45" font-size="9.0">UAV 4</text>
<path d="M483.30 87.40H501.30" stroke="#9467bd" stroke-width="1.376" stroke-linecap="square"/>
<text x="508.80" y="91.30" font-size="9.0">UAV 5</text>
</g></svg></body></html>
